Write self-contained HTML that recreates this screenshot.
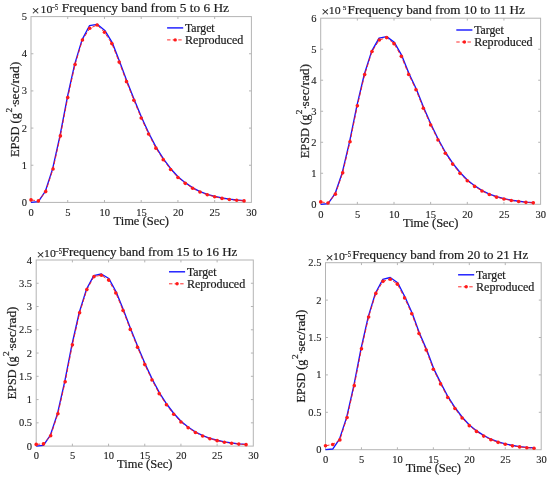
<!DOCTYPE html>
<html><head><meta charset="utf-8"><title>EPSD</title>
<style>
html,body{margin:0;padding:0;background:#fff;}
svg{display:block}
text{font-family:"Liberation Serif","DejaVu Serif",serif;fill:#1c1c1c;stroke:#1c1c1c;stroke-width:0.2px}
.tk{font-size:10.5px;stroke-width:0.12px}
.ti{font-size:12px}
.lb{font-size:12px}
.lg{font-size:11.5px}
</style></head><body>
<svg width="550" height="477" viewBox="0 0 550 477">
<rect width="550" height="477" fill="#fff"/>
<g>
<rect x="31.00" y="16.60" width="220.40" height="185.80" fill="none" stroke="#b4b4b4" stroke-width="1"/>
<path d="M67.73 202.40v-2.4M67.73 16.60v2.4M104.47 202.40v-2.4M104.47 16.60v2.4M141.20 202.40v-2.4M141.20 16.60v2.4M177.93 202.40v-2.4M177.93 16.60v2.4M214.67 202.40v-2.4M214.67 16.60v2.4M31.00 165.24h2.4M251.40 165.24h-2.4M31.00 128.08h2.4M251.40 128.08h-2.4M31.00 90.92h2.4M251.40 90.92h-2.4M31.00 53.76h2.4M251.40 53.76h-2.4" stroke="#b4b4b4" stroke-width="1" fill="none"/>
<text class="tk" x="31.20" y="215.70" text-anchor="middle">0</text>
<text class="tk" x="67.93" y="215.70" text-anchor="middle">5</text>
<text class="tk" x="104.67" y="215.70" text-anchor="middle">10</text>
<text class="tk" x="141.40" y="215.70" text-anchor="middle">15</text>
<text class="tk" x="178.13" y="215.70" text-anchor="middle">20</text>
<text class="tk" x="214.87" y="215.70" text-anchor="middle">25</text>
<text class="tk" x="251.60" y="215.70" text-anchor="middle">30</text>
<text class="tk" x="26.90" y="205.90" text-anchor="end">0</text>
<text class="tk" x="26.90" y="168.74" text-anchor="end">1</text>
<text class="tk" x="26.90" y="131.58" text-anchor="end">2</text>
<text class="tk" x="26.90" y="94.42" text-anchor="end">3</text>
<text class="tk" x="26.90" y="57.26" text-anchor="end">4</text>
<text class="tk" x="26.90" y="20.10" text-anchor="end">5</text>
<text x="31.80" y="15.40" font-size="13.5px">×</text>
<text class="tk" x="40.60" y="13.40" textLength="11.8" lengthAdjust="spacingAndGlyphs">10</text>
<text x="51.40" y="9.70" font-size="7.5px" textLength="6.6" lengthAdjust="spacingAndGlyphs">−5</text>
<text class="ti" x="61.80" y="12.00" textLength="167.2" lengthAdjust="spacingAndGlyphs">Frequency band from 5 to 6 Hz</text>
<text class="lb" x="113.50" y="224.70" textLength="55.4" lengthAdjust="spacingAndGlyphs">Time (Sec)</text>
<g transform="translate(19.00 157.00) rotate(-90)"><text class="lb" x="0" y="0" textLength="44.0" lengthAdjust="spacingAndGlyphs">EPSD (g</text><text x="44.50" y="-7" font-size="8px" textLength="4.7" lengthAdjust="spacingAndGlyphs">2</text><text class="lb" x="49.20" y="0">·</text><text class="lb" x="52.30" y="0" textLength="43.1" lengthAdjust="spacingAndGlyphs">sec/rad)</text></g>
<polyline points="31.00,202.40 38.35,201.69 45.28,191.44 52.60,168.84 59.95,135.79 67.29,97.52 74.64,64.43 82.01,39.84 89.45,25.69 97.24,24.34 104.82,30.44 112.22,42.56 119.58,61.48 126.93,81.17 134.27,99.74 141.61,117.57 148.95,133.53 156.28,147.63 163.61,159.11 170.93,168.93 178.24,176.95 185.52,182.90 192.81,187.81 200.11,191.54 207.41,194.36 214.73,196.36 222.05,198.03 229.38,199.18 236.72,200.02 244.06,200.58" fill="none" stroke="#1414ff" stroke-width="1.35" stroke-linejoin="round"/>
<polyline points="31.00,199.91 38.35,200.91 45.69,191.62 53.04,168.96 60.39,135.88 67.73,97.61 75.08,64.54 82.43,40.01 89.77,28.31 97.12,25.00 104.47,32.21 111.81,43.58 119.16,62.08 126.51,81.63 133.85,100.21 141.20,118.05 148.55,134.03 155.89,148.15 163.24,159.67 170.59,169.51 177.93,177.43 185.28,183.37 192.63,188.28 199.97,192.00 207.32,194.78 214.67,196.75 222.01,198.39 229.36,199.50 236.71,200.32 244.05,200.88" fill="none" stroke="#ff1a1a" stroke-width="0.9" stroke-dasharray="4 2"/>
<circle cx="31.00" cy="199.91" r="1.8" fill="#ff1a1a"/>
<circle cx="38.35" cy="200.91" r="1.8" fill="#ff1a1a"/>
<circle cx="45.69" cy="191.62" r="1.8" fill="#ff1a1a"/>
<circle cx="53.04" cy="168.96" r="1.8" fill="#ff1a1a"/>
<circle cx="60.39" cy="135.88" r="1.8" fill="#ff1a1a"/>
<circle cx="67.73" cy="97.61" r="1.8" fill="#ff1a1a"/>
<circle cx="75.08" cy="64.54" r="1.8" fill="#ff1a1a"/>
<circle cx="82.43" cy="40.01" r="1.8" fill="#ff1a1a"/>
<circle cx="89.77" cy="28.31" r="1.8" fill="#ff1a1a"/>
<circle cx="97.12" cy="25.00" r="1.8" fill="#ff1a1a"/>
<circle cx="104.47" cy="32.21" r="1.8" fill="#ff1a1a"/>
<circle cx="111.81" cy="43.58" r="1.8" fill="#ff1a1a"/>
<circle cx="119.16" cy="62.08" r="1.8" fill="#ff1a1a"/>
<circle cx="126.51" cy="81.63" r="1.8" fill="#ff1a1a"/>
<circle cx="133.85" cy="100.21" r="1.8" fill="#ff1a1a"/>
<circle cx="141.20" cy="118.05" r="1.8" fill="#ff1a1a"/>
<circle cx="148.55" cy="134.03" r="1.8" fill="#ff1a1a"/>
<circle cx="155.89" cy="148.15" r="1.8" fill="#ff1a1a"/>
<circle cx="163.24" cy="159.67" r="1.8" fill="#ff1a1a"/>
<circle cx="170.59" cy="169.51" r="1.8" fill="#ff1a1a"/>
<circle cx="177.93" cy="177.43" r="1.8" fill="#ff1a1a"/>
<circle cx="185.28" cy="183.37" r="1.8" fill="#ff1a1a"/>
<circle cx="192.63" cy="188.28" r="1.8" fill="#ff1a1a"/>
<circle cx="199.97" cy="192.00" r="1.8" fill="#ff1a1a"/>
<circle cx="207.32" cy="194.78" r="1.8" fill="#ff1a1a"/>
<circle cx="214.67" cy="196.75" r="1.8" fill="#ff1a1a"/>
<circle cx="222.01" cy="198.39" r="1.8" fill="#ff1a1a"/>
<circle cx="229.36" cy="199.50" r="1.8" fill="#ff1a1a"/>
<circle cx="236.71" cy="200.32" r="1.8" fill="#ff1a1a"/>
<circle cx="244.05" cy="200.88" r="1.8" fill="#ff1a1a"/>
<path d="M167.10 27.90h16.1" stroke="#1414ff" stroke-width="1.4"/>
<path d="M167.10 39.90h16.1" stroke="#ff2a2a" stroke-width="1" stroke-dasharray="3.4 2.2"/>
<circle cx="175.20" cy="39.90" r="1.7" fill="#ff1a1a"/>
<text class="lg" x="185.00" y="31.70" textLength="29.6" lengthAdjust="spacingAndGlyphs">Target</text>
<text class="lg" x="185.00" y="43.80" textLength="58.4" lengthAdjust="spacingAndGlyphs">Reproduced</text>
</g>
<g>
<rect x="320.70" y="18.20" width="219.90" height="186.10" fill="none" stroke="#b4b4b4" stroke-width="1"/>
<path d="M357.35 204.30v-2.4M357.35 18.20v2.4M394.00 204.30v-2.4M394.00 18.20v2.4M430.65 204.30v-2.4M430.65 18.20v2.4M467.30 204.30v-2.4M467.30 18.20v2.4M503.95 204.30v-2.4M503.95 18.20v2.4M320.70 173.28h2.4M540.60 173.28h-2.4M320.70 142.27h2.4M540.60 142.27h-2.4M320.70 111.25h2.4M540.60 111.25h-2.4M320.70 80.23h2.4M540.60 80.23h-2.4M320.70 49.22h2.4M540.60 49.22h-2.4" stroke="#b4b4b4" stroke-width="1" fill="none"/>
<text class="tk" x="320.90" y="217.60" text-anchor="middle">0</text>
<text class="tk" x="357.55" y="217.60" text-anchor="middle">5</text>
<text class="tk" x="394.20" y="217.60" text-anchor="middle">10</text>
<text class="tk" x="430.85" y="217.60" text-anchor="middle">15</text>
<text class="tk" x="467.50" y="217.60" text-anchor="middle">20</text>
<text class="tk" x="504.15" y="217.60" text-anchor="middle">25</text>
<text class="tk" x="540.80" y="217.60" text-anchor="middle">30</text>
<text class="tk" x="316.60" y="207.80" text-anchor="end">0</text>
<text class="tk" x="316.60" y="176.78" text-anchor="end">1</text>
<text class="tk" x="316.60" y="145.77" text-anchor="end">2</text>
<text class="tk" x="316.60" y="114.75" text-anchor="end">3</text>
<text class="tk" x="316.60" y="83.73" text-anchor="end">4</text>
<text class="tk" x="316.60" y="52.72" text-anchor="end">5</text>
<text class="tk" x="316.60" y="21.70" text-anchor="end">6</text>
<text x="321.40" y="16.40" font-size="13.5px">×</text>
<text class="tk" x="328.70" y="14.40" textLength="11.9" lengthAdjust="spacingAndGlyphs">10</text>
<text x="342.90" y="10.10" font-size="6px" textLength="3.3" lengthAdjust="spacingAndGlyphs">5</text>
<text class="ti" x="347.60" y="14.10" textLength="177.3" lengthAdjust="spacingAndGlyphs">Frequency band from 10 to 11 Hz</text>
<text class="lb" x="402.95" y="226.60" textLength="55.4" lengthAdjust="spacingAndGlyphs">Time (Sec)</text>
<g transform="translate(308.90 158.18) rotate(-90)"><text class="lb" x="0" y="0" textLength="43.5" lengthAdjust="spacingAndGlyphs">EPSD (g</text><text x="43.97" y="-7" font-size="8px" textLength="4.7" lengthAdjust="spacingAndGlyphs">2</text><text class="lb" x="48.61" y="0">·</text><text class="lb" x="51.67" y="0" textLength="42.6" lengthAdjust="spacingAndGlyphs">sec/rad)</text></g>
<polyline points="320.70,204.30 328.03,203.63 334.96,193.97 342.26,172.72 349.58,141.64 356.91,105.63 364.25,74.50 371.60,51.38 379.04,38.14 386.67,36.65 394.30,42.21 401.74,55.39 409.07,73.83 416.40,89.30 423.74,107.72 431.06,124.49 438.38,139.50 445.69,152.75 453.00,163.56 460.31,172.79 467.60,180.33 474.86,185.93 482.14,190.55 489.42,194.07 496.70,196.72 504.01,198.60 511.32,200.18 518.63,201.27 525.95,202.05 533.28,202.58" fill="none" stroke="#1414ff" stroke-width="1.35" stroke-linejoin="round"/>
<polyline points="320.70,201.91 328.03,202.94 335.36,194.16 342.69,172.84 350.02,141.73 357.35,105.73 364.68,74.62 372.01,51.55 379.34,40.00 386.67,37.62 394.00,43.63 401.33,56.35 408.66,74.43 415.99,89.76 423.32,108.18 430.65,124.95 437.98,139.98 445.31,153.27 452.64,164.10 459.97,173.37 467.30,180.81 474.63,186.40 481.96,191.02 489.29,194.51 496.62,197.13 503.95,198.99 511.28,200.52 518.61,201.57 525.94,202.34 533.27,202.87" fill="none" stroke="#ff1a1a" stroke-width="0.9" stroke-dasharray="4 2"/>
<circle cx="320.70" cy="201.91" r="1.8" fill="#ff1a1a"/>
<circle cx="328.03" cy="202.94" r="1.8" fill="#ff1a1a"/>
<circle cx="335.36" cy="194.16" r="1.8" fill="#ff1a1a"/>
<circle cx="342.69" cy="172.84" r="1.8" fill="#ff1a1a"/>
<circle cx="350.02" cy="141.73" r="1.8" fill="#ff1a1a"/>
<circle cx="357.35" cy="105.73" r="1.8" fill="#ff1a1a"/>
<circle cx="364.68" cy="74.62" r="1.8" fill="#ff1a1a"/>
<circle cx="372.01" cy="51.55" r="1.8" fill="#ff1a1a"/>
<circle cx="379.34" cy="40.00" r="1.8" fill="#ff1a1a"/>
<circle cx="386.67" cy="37.62" r="1.8" fill="#ff1a1a"/>
<circle cx="394.00" cy="43.63" r="1.8" fill="#ff1a1a"/>
<circle cx="401.33" cy="56.35" r="1.8" fill="#ff1a1a"/>
<circle cx="408.66" cy="74.43" r="1.8" fill="#ff1a1a"/>
<circle cx="415.99" cy="89.76" r="1.8" fill="#ff1a1a"/>
<circle cx="423.32" cy="108.18" r="1.8" fill="#ff1a1a"/>
<circle cx="430.65" cy="124.95" r="1.8" fill="#ff1a1a"/>
<circle cx="437.98" cy="139.98" r="1.8" fill="#ff1a1a"/>
<circle cx="445.31" cy="153.27" r="1.8" fill="#ff1a1a"/>
<circle cx="452.64" cy="164.10" r="1.8" fill="#ff1a1a"/>
<circle cx="459.97" cy="173.37" r="1.8" fill="#ff1a1a"/>
<circle cx="467.30" cy="180.81" r="1.8" fill="#ff1a1a"/>
<circle cx="474.63" cy="186.40" r="1.8" fill="#ff1a1a"/>
<circle cx="481.96" cy="191.02" r="1.8" fill="#ff1a1a"/>
<circle cx="489.29" cy="194.51" r="1.8" fill="#ff1a1a"/>
<circle cx="496.62" cy="197.13" r="1.8" fill="#ff1a1a"/>
<circle cx="503.95" cy="198.99" r="1.8" fill="#ff1a1a"/>
<circle cx="511.28" cy="200.52" r="1.8" fill="#ff1a1a"/>
<circle cx="518.61" cy="201.57" r="1.8" fill="#ff1a1a"/>
<circle cx="525.94" cy="202.34" r="1.8" fill="#ff1a1a"/>
<circle cx="533.27" cy="202.87" r="1.8" fill="#ff1a1a"/>
<path d="M456.30 30.00h16.1" stroke="#1414ff" stroke-width="1.4"/>
<path d="M456.30 42.00h16.1" stroke="#ff2a2a" stroke-width="1" stroke-dasharray="3.4 2.2"/>
<circle cx="464.40" cy="42.00" r="1.7" fill="#ff1a1a"/>
<text class="lg" x="474.20" y="33.80" textLength="29.6" lengthAdjust="spacingAndGlyphs">Target</text>
<text class="lg" x="474.20" y="45.90" textLength="58.4" lengthAdjust="spacingAndGlyphs">Reproduced</text>
</g>
<g>
<rect x="36.20" y="260.00" width="217.10" height="186.10" fill="none" stroke="#b4b4b4" stroke-width="1"/>
<path d="M72.38 446.10v-2.4M72.38 260.00v2.4M108.57 446.10v-2.4M108.57 260.00v2.4M144.75 446.10v-2.4M144.75 260.00v2.4M180.93 446.10v-2.4M180.93 260.00v2.4M217.12 446.10v-2.4M217.12 260.00v2.4M36.20 422.84h2.4M253.30 422.84h-2.4M36.20 399.58h2.4M253.30 399.58h-2.4M36.20 376.31h2.4M253.30 376.31h-2.4M36.20 353.05h2.4M253.30 353.05h-2.4M36.20 329.79h2.4M253.30 329.79h-2.4M36.20 306.52h2.4M253.30 306.52h-2.4M36.20 283.26h2.4M253.30 283.26h-2.4" stroke="#b4b4b4" stroke-width="1" fill="none"/>
<text class="tk" x="36.40" y="459.40" text-anchor="middle">0</text>
<text class="tk" x="72.58" y="459.40" text-anchor="middle">5</text>
<text class="tk" x="108.77" y="459.40" text-anchor="middle">10</text>
<text class="tk" x="144.95" y="459.40" text-anchor="middle">15</text>
<text class="tk" x="181.13" y="459.40" text-anchor="middle">20</text>
<text class="tk" x="217.32" y="459.40" text-anchor="middle">25</text>
<text class="tk" x="253.50" y="459.40" text-anchor="middle">30</text>
<text class="tk" x="32.10" y="449.60" text-anchor="end">0</text>
<text class="tk" x="32.10" y="426.34" text-anchor="end">0.5</text>
<text class="tk" x="32.10" y="403.08" text-anchor="end">1</text>
<text class="tk" x="32.10" y="379.81" text-anchor="end">1.5</text>
<text class="tk" x="32.10" y="356.55" text-anchor="end">2</text>
<text class="tk" x="32.10" y="333.29" text-anchor="end">2.5</text>
<text class="tk" x="32.10" y="310.02" text-anchor="end">3</text>
<text class="tk" x="32.10" y="286.76" text-anchor="end">3.5</text>
<text class="tk" x="32.10" y="263.50" text-anchor="end">4</text>
<text x="36.80" y="258.70" font-size="13.5px">×</text>
<text class="tk" x="44.10" y="256.70" textLength="11.8" lengthAdjust="spacingAndGlyphs">10</text>
<text x="55.00" y="253.90" font-size="7.5px" textLength="6.9" lengthAdjust="spacingAndGlyphs">−5</text>
<text class="ti" x="61.70" y="256.00" textLength="175.6" lengthAdjust="spacingAndGlyphs">Frequency band from 15 to 16 Hz</text>
<text class="lb" x="117.05" y="468.40" textLength="55.4" lengthAdjust="spacingAndGlyphs">Time (Sec)</text>
<g transform="translate(15.50 399.22) rotate(-90)"><text class="lb" x="0" y="0" textLength="42.8" lengthAdjust="spacingAndGlyphs">EPSD (g</text><text x="43.25" y="-7" font-size="8px" textLength="4.7" lengthAdjust="spacingAndGlyphs">2</text><text class="lb" x="47.82" y="0">·</text><text class="lb" x="50.84" y="0" textLength="41.9" lengthAdjust="spacingAndGlyphs">sec/rad)</text></g>
<polyline points="36.20,446.10 43.44,445.41 50.27,435.49 57.48,413.66 64.71,381.72 71.94,344.74 79.18,312.75 86.44,289.42 93.79,275.54 101.33,273.96 108.87,278.47 116.21,292.00 123.46,309.90 130.70,328.93 137.93,346.88 145.16,364.11 152.39,379.53 159.61,393.15 166.83,404.26 174.04,413.74 181.24,421.49 188.41,427.24 195.59,431.99 202.77,435.60 209.97,438.32 217.18,440.25 224.39,441.87 231.61,442.99 238.84,443.80 246.07,444.33" fill="none" stroke="#1414ff" stroke-width="1.35" stroke-linejoin="round"/>
<polyline points="36.20,444.38 43.44,443.91 50.67,435.69 57.91,413.78 65.15,381.82 72.38,344.83 79.62,312.87 86.86,289.59 94.09,276.61 101.33,275.21 108.57,280.10 115.80,292.99 123.04,310.50 130.28,329.39 137.51,347.34 144.75,364.58 151.99,380.02 159.22,393.67 166.46,404.80 173.70,414.32 180.93,421.97 188.17,427.71 195.41,432.45 202.64,436.04 209.88,438.74 217.12,440.64 224.35,442.22 231.59,443.30 238.83,444.09 246.06,444.63" fill="none" stroke="#ff1a1a" stroke-width="0.9" stroke-dasharray="4 2"/>
<circle cx="36.20" cy="444.38" r="1.8" fill="#ff1a1a"/>
<circle cx="43.44" cy="443.91" r="1.8" fill="#ff1a1a"/>
<circle cx="50.67" cy="435.69" r="1.8" fill="#ff1a1a"/>
<circle cx="57.91" cy="413.78" r="1.8" fill="#ff1a1a"/>
<circle cx="65.15" cy="381.82" r="1.8" fill="#ff1a1a"/>
<circle cx="72.38" cy="344.83" r="1.8" fill="#ff1a1a"/>
<circle cx="79.62" cy="312.87" r="1.8" fill="#ff1a1a"/>
<circle cx="86.86" cy="289.59" r="1.8" fill="#ff1a1a"/>
<circle cx="94.09" cy="276.61" r="1.8" fill="#ff1a1a"/>
<circle cx="101.33" cy="275.21" r="1.8" fill="#ff1a1a"/>
<circle cx="108.57" cy="280.10" r="1.8" fill="#ff1a1a"/>
<circle cx="115.80" cy="292.99" r="1.8" fill="#ff1a1a"/>
<circle cx="123.04" cy="310.50" r="1.8" fill="#ff1a1a"/>
<circle cx="130.28" cy="329.39" r="1.8" fill="#ff1a1a"/>
<circle cx="137.51" cy="347.34" r="1.8" fill="#ff1a1a"/>
<circle cx="144.75" cy="364.58" r="1.8" fill="#ff1a1a"/>
<circle cx="151.99" cy="380.02" r="1.8" fill="#ff1a1a"/>
<circle cx="159.22" cy="393.67" r="1.8" fill="#ff1a1a"/>
<circle cx="166.46" cy="404.80" r="1.8" fill="#ff1a1a"/>
<circle cx="173.70" cy="414.32" r="1.8" fill="#ff1a1a"/>
<circle cx="180.93" cy="421.97" r="1.8" fill="#ff1a1a"/>
<circle cx="188.17" cy="427.71" r="1.8" fill="#ff1a1a"/>
<circle cx="195.41" cy="432.45" r="1.8" fill="#ff1a1a"/>
<circle cx="202.64" cy="436.04" r="1.8" fill="#ff1a1a"/>
<circle cx="209.88" cy="438.74" r="1.8" fill="#ff1a1a"/>
<circle cx="217.12" cy="440.64" r="1.8" fill="#ff1a1a"/>
<circle cx="224.35" cy="442.22" r="1.8" fill="#ff1a1a"/>
<circle cx="231.59" cy="443.30" r="1.8" fill="#ff1a1a"/>
<circle cx="238.83" cy="444.09" r="1.8" fill="#ff1a1a"/>
<circle cx="246.06" cy="444.63" r="1.8" fill="#ff1a1a"/>
<path d="M169.00 271.80h16.1" stroke="#1414ff" stroke-width="1.4"/>
<path d="M169.00 283.80h16.1" stroke="#ff2a2a" stroke-width="1" stroke-dasharray="3.4 2.2"/>
<circle cx="177.10" cy="283.80" r="1.7" fill="#ff1a1a"/>
<text class="lg" x="186.90" y="275.60" textLength="29.6" lengthAdjust="spacingAndGlyphs">Target</text>
<text class="lg" x="186.90" y="287.70" textLength="58.4" lengthAdjust="spacingAndGlyphs">Reproduced</text>
</g>
<g>
<rect x="325.50" y="262.70" width="215.70" height="187.00" fill="none" stroke="#b4b4b4" stroke-width="1"/>
<path d="M361.45 449.70v-2.4M361.45 262.70v2.4M397.40 449.70v-2.4M397.40 262.70v2.4M433.35 449.70v-2.4M433.35 262.70v2.4M469.30 449.70v-2.4M469.30 262.70v2.4M505.25 449.70v-2.4M505.25 262.70v2.4M325.50 412.30h2.4M541.20 412.30h-2.4M325.50 374.90h2.4M541.20 374.90h-2.4M325.50 337.50h2.4M541.20 337.50h-2.4M325.50 300.10h2.4M541.20 300.10h-2.4" stroke="#b4b4b4" stroke-width="1" fill="none"/>
<text class="tk" x="325.70" y="463.00" text-anchor="middle">0</text>
<text class="tk" x="361.65" y="463.00" text-anchor="middle">5</text>
<text class="tk" x="397.60" y="463.00" text-anchor="middle">10</text>
<text class="tk" x="433.55" y="463.00" text-anchor="middle">15</text>
<text class="tk" x="469.50" y="463.00" text-anchor="middle">20</text>
<text class="tk" x="505.45" y="463.00" text-anchor="middle">25</text>
<text class="tk" x="541.40" y="463.00" text-anchor="middle">30</text>
<text class="tk" x="321.40" y="453.20" text-anchor="end">0</text>
<text class="tk" x="321.40" y="415.80" text-anchor="end">0.5</text>
<text class="tk" x="321.40" y="378.40" text-anchor="end">1</text>
<text class="tk" x="321.40" y="341.00" text-anchor="end">1.5</text>
<text class="tk" x="321.40" y="303.60" text-anchor="end">2</text>
<text class="tk" x="321.40" y="266.20" text-anchor="end">2.5</text>
<text x="325.80" y="261.70" font-size="13.5px">×</text>
<text class="tk" x="333.10" y="259.70" textLength="11.8" lengthAdjust="spacingAndGlyphs">10</text>
<text x="344.00" y="256.90" font-size="7.5px" textLength="6.9" lengthAdjust="spacingAndGlyphs">−5</text>
<text class="ti" x="352.30" y="259.00" textLength="175.9" lengthAdjust="spacingAndGlyphs">Frequency band from 20 to 21 Hz</text>
<text class="lb" x="405.65" y="472.00" textLength="55.4" lengthAdjust="spacingAndGlyphs">Time (Sec)</text>
<g transform="translate(305.10 402.42) rotate(-90)"><text class="lb" x="0" y="0" textLength="42.8" lengthAdjust="spacingAndGlyphs">EPSD (g</text><text x="43.30" y="-7" font-size="8px" textLength="4.7" lengthAdjust="spacingAndGlyphs">2</text><text class="lb" x="47.87" y="0">·</text><text class="lb" x="50.89" y="0" textLength="41.9" lengthAdjust="spacingAndGlyphs">sec/rad)</text></g>
<polyline points="325.50,449.70 332.69,449.02 339.48,439.11 346.64,417.39 353.82,385.58 361.01,348.73 368.20,316.88 375.41,293.21 382.72,279.46 390.21,277.51 397.70,282.75 404.99,297.02 412.20,313.19 419.39,332.99 426.58,349.61 433.76,368.83 440.94,383.39 448.12,396.96 455.29,408.02 462.45,417.47 469.61,425.19 476.73,430.91 483.86,435.64 491.00,439.24 498.15,441.95 505.31,443.88 512.48,445.49 519.65,446.60 526.83,447.40 534.02,447.94" fill="none" stroke="#1414ff" stroke-width="1.35" stroke-linejoin="round"/>
<polyline points="325.50,445.81 332.69,444.46 339.88,439.90 347.07,417.51 354.26,385.67 361.45,348.83 368.64,316.99 375.83,293.38 383.02,281.33 390.21,279.23 397.40,284.17 404.59,298.01 411.78,313.79 418.97,333.45 426.16,350.07 433.35,369.29 440.54,383.88 447.73,397.48 454.92,408.56 462.11,418.04 469.30,425.66 476.49,431.39 483.68,436.11 490.87,439.68 498.06,442.37 505.25,444.26 512.44,445.84 519.63,446.91 526.82,447.70 534.01,448.23" fill="none" stroke="#ff1a1a" stroke-width="0.9" stroke-dasharray="4 2"/>
<circle cx="325.50" cy="445.81" r="1.8" fill="#ff1a1a"/>
<circle cx="332.69" cy="444.46" r="1.8" fill="#ff1a1a"/>
<circle cx="339.88" cy="439.90" r="1.8" fill="#ff1a1a"/>
<circle cx="347.07" cy="417.51" r="1.8" fill="#ff1a1a"/>
<circle cx="354.26" cy="385.67" r="1.8" fill="#ff1a1a"/>
<circle cx="361.45" cy="348.83" r="1.8" fill="#ff1a1a"/>
<circle cx="368.64" cy="316.99" r="1.8" fill="#ff1a1a"/>
<circle cx="375.83" cy="293.38" r="1.8" fill="#ff1a1a"/>
<circle cx="383.02" cy="281.33" r="1.8" fill="#ff1a1a"/>
<circle cx="390.21" cy="279.23" r="1.8" fill="#ff1a1a"/>
<circle cx="397.40" cy="284.17" r="1.8" fill="#ff1a1a"/>
<circle cx="404.59" cy="298.01" r="1.8" fill="#ff1a1a"/>
<circle cx="411.78" cy="313.79" r="1.8" fill="#ff1a1a"/>
<circle cx="418.97" cy="333.45" r="1.8" fill="#ff1a1a"/>
<circle cx="426.16" cy="350.07" r="1.8" fill="#ff1a1a"/>
<circle cx="433.35" cy="369.29" r="1.8" fill="#ff1a1a"/>
<circle cx="440.54" cy="383.88" r="1.8" fill="#ff1a1a"/>
<circle cx="447.73" cy="397.48" r="1.8" fill="#ff1a1a"/>
<circle cx="454.92" cy="408.56" r="1.8" fill="#ff1a1a"/>
<circle cx="462.11" cy="418.04" r="1.8" fill="#ff1a1a"/>
<circle cx="469.30" cy="425.66" r="1.8" fill="#ff1a1a"/>
<circle cx="476.49" cy="431.39" r="1.8" fill="#ff1a1a"/>
<circle cx="483.68" cy="436.11" r="1.8" fill="#ff1a1a"/>
<circle cx="490.87" cy="439.68" r="1.8" fill="#ff1a1a"/>
<circle cx="498.06" cy="442.37" r="1.8" fill="#ff1a1a"/>
<circle cx="505.25" cy="444.26" r="1.8" fill="#ff1a1a"/>
<circle cx="512.44" cy="445.84" r="1.8" fill="#ff1a1a"/>
<circle cx="519.63" cy="446.91" r="1.8" fill="#ff1a1a"/>
<circle cx="526.82" cy="447.70" r="1.8" fill="#ff1a1a"/>
<circle cx="534.01" cy="448.23" r="1.8" fill="#ff1a1a"/>
<path d="M458.10 274.80h16.1" stroke="#1414ff" stroke-width="1.4"/>
<path d="M458.10 286.80h16.1" stroke="#ff2a2a" stroke-width="1" stroke-dasharray="3.4 2.2"/>
<circle cx="466.20" cy="286.80" r="1.7" fill="#ff1a1a"/>
<text class="lg" x="476.00" y="278.60" textLength="29.6" lengthAdjust="spacingAndGlyphs">Target</text>
<text class="lg" x="476.00" y="290.70" textLength="58.4" lengthAdjust="spacingAndGlyphs">Reproduced</text>
</g>
</svg></body></html>
